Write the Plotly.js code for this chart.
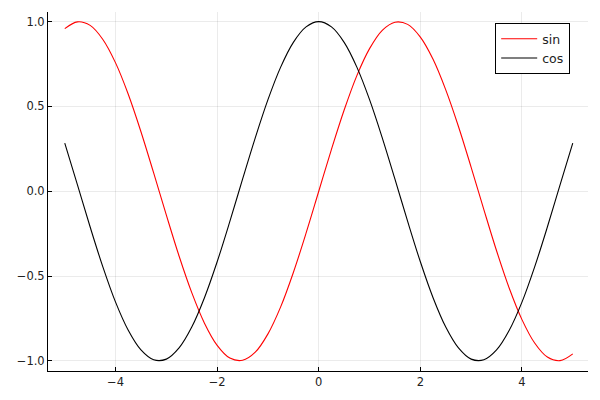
<!DOCTYPE html>
<html>
<head>
<meta charset="utf-8">
<script src="https://cdn.plot.ly/plotly-3.0.1.min.js"></script>
<style>
  html, body { margin: 0; padding: 0; background: #fff; }
  #chart { width: 600px; height: 400px; }
</style>
</head>
<body>
<div id="chart"></div>
<script>
const xs = [-5, -4.75, -4.5, -4.25, -4, -3.75, -3.5, -3.25, -3, -2.75, -2.5, -2.25, -2, -1.75, -1.5, -1.25, -1, -0.75, -0.5, -0.25,
    0, 0.25, 0.5, 0.75, 1, 1.25, 1.5, 1.75, 2, 2.25, 2.5, 2.75, 3, 3.25, 3.5, 3.75, 4, 4.25, 4.5, 4.75, 5];
const sinValues = [0.959, 0.999, 0.978, 0.895, 0.757, 0.572, 0.351, 0.108, -0.141, -0.382, -0.598, -0.778, -0.909, -0.984, -0.997, -0.949, -0.841, -0.682, -0.479, -0.247,
    0, 0.247, 0.479, 0.682, 0.841, 0.949, 0.997, 0.984, 0.909, 0.778, 0.598, 0.382, 0.141, -0.108, -0.351, -0.572, -0.757, -0.895, -0.978, -0.999, -0.959];
const cosValues = [0.284, 0.038, -0.211, -0.446, -0.654, -0.820, -0.936, -0.994, -0.990, -0.924, -0.801, -0.628, -0.416, -0.178, 0.071, 0.315, 0.540, 0.732, 0.878, 0.969,
    1, 0.969, 0.878, 0.732, 0.540, 0.315, 0.071, -0.178, -0.416, -0.628, -0.801, -0.924, -0.990, -0.994, -0.936, -0.820, -0.654, -0.446, -0.211, 0.038, 0.284];
const seriesNames = ['sin', 'cos'];
const xTicks = [-4, -2, 0, 2, 4];
const yTicks = [-1, -0.5, 0, 0.5, 1];
const yTickText = ['\u22121.0', '\u22120.5', '0.0', '0.5', '1.0'];

const traces = [
    {
        x: xs, y: sinValues, name: seriesNames[0], type: 'scatter', mode: 'lines',
        line: { color: '#ff0000', width: 1.1, shape: 'spline', smoothing: 1 }
    },
    {
        x: xs, y: cosValues, name: seriesNames[1], type: 'scatter', mode: 'lines',
        line: { color: '#000000', width: 1.1, shape: 'spline', smoothing: 1 }
    }
];

const axisStyle = {
    showline: true,
    linecolor: '#000',
    linewidth: 1,
    ticks: 'inside',
    ticklen: 4,
    tickcolor: '#000',
    tickwidth: 1,
    showgrid: true,
    gridcolor: 'rgba(0,0,0,0.08)',
    gridwidth: 1,
    zeroline: false,
    mirror: false,
    tickfont: { family: 'DejaVu Sans, sans-serif', size: 11.5, color: '#222' }
};

const layout = {
    width: 600,
    height: 400,
    margin: { l: 48, r: 12, t: 12, b: 29 },
    paper_bgcolor: '#fff',
    plot_bgcolor: '#fff',
    showlegend: true,
    legend: {
        x: 0.967, y: 0.969, xanchor: 'right', yanchor: 'top',
        bgcolor: '#fff', bordercolor: '#000', borderwidth: 1,
        itemwidth: 36,
        font: { family: 'DejaVu Sans, sans-serif', size: 12.5, color: '#222' },
        tracegroupgap: 0
    },
    xaxis: Object.assign({}, axisStyle, {
        range: [-5.33, 5.3],
        tickvals: xTicks,
        ticktext: xTicks.map(v => v < 0 ? '\u2212' + Math.abs(v) : String(v))
    }),
    yaxis: Object.assign({}, axisStyle, {
        range: [-1.06, 1.057],
        tickvals: yTicks,
        ticktext: yTickText
    })
};

Plotly.newPlot('chart', traces, layout, { displayModeBar: false, staticPlot: true });
</script>
</body>
</html>
